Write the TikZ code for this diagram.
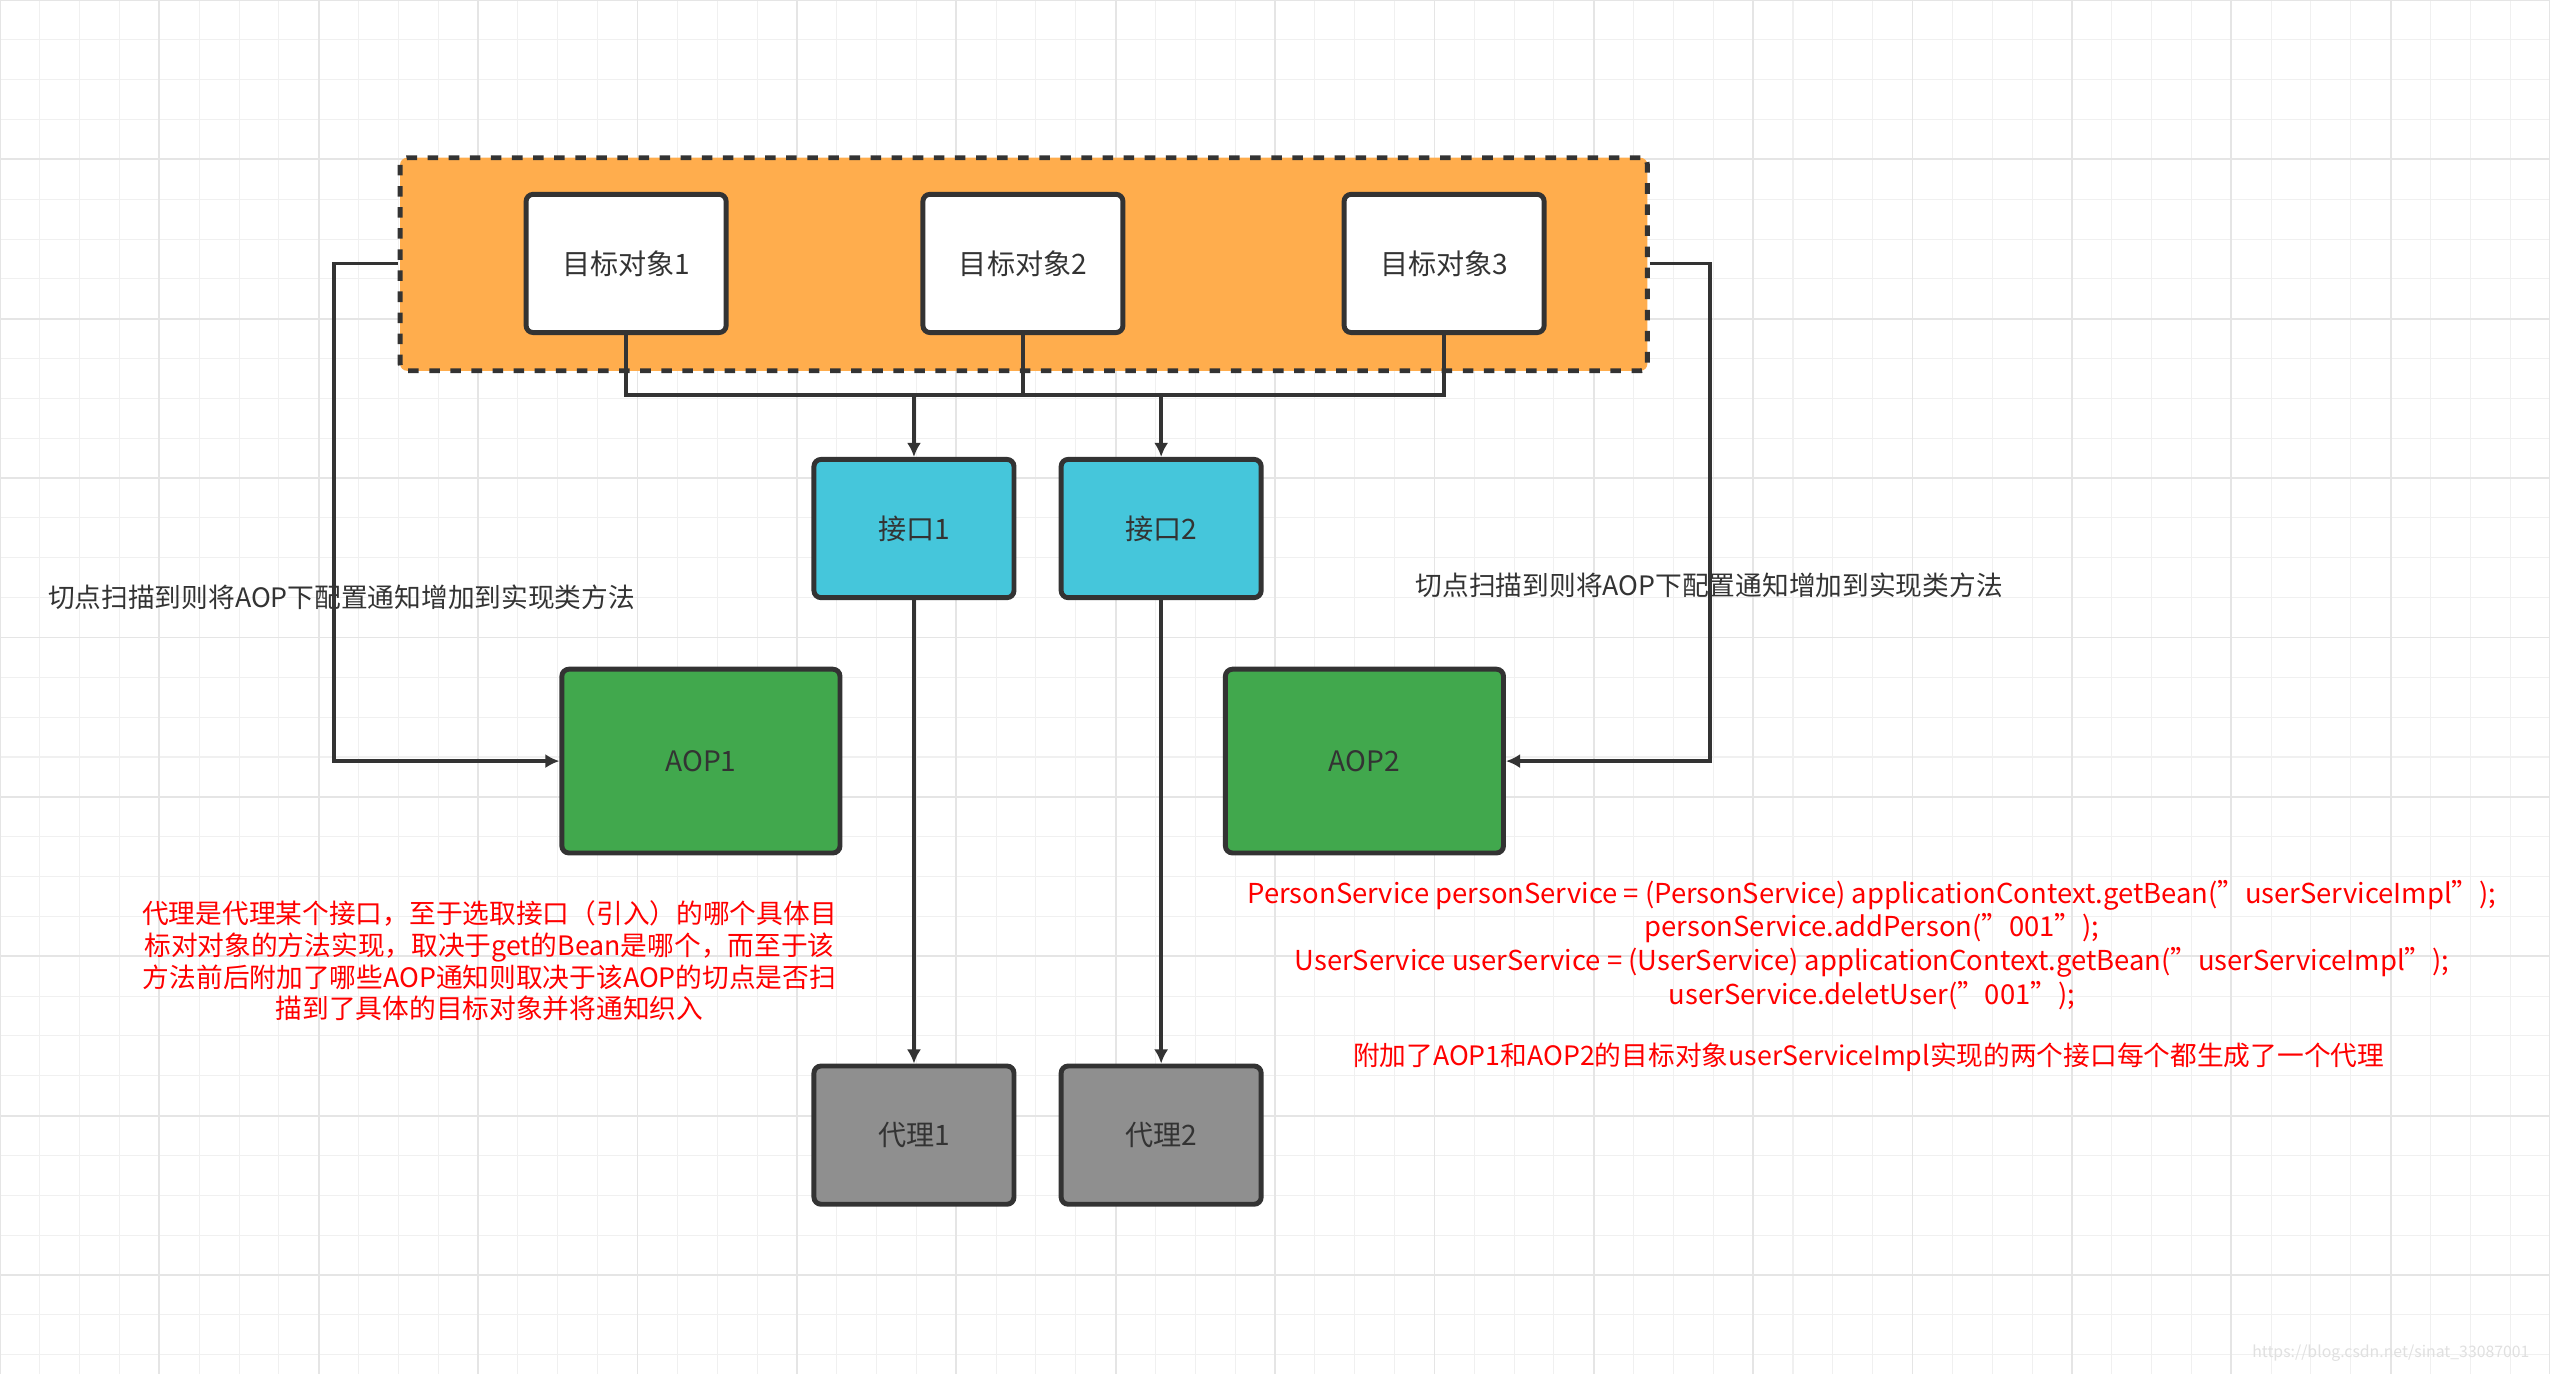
\documentclass[tikz,border=0pt]{standalone}
\usepackage{fontspec}
\setmainfont{Noto Sans CJK SC}
\usetikzlibrary{positioning}
\definecolor{orangebg}{HTML}{FFAD4D}
\definecolor{cyanbox}{HTML}{45C6DB}
\definecolor{greenbox}{HTML}{41A84D}
\definecolor{greybox}{HTML}{8F8F8F}
\definecolor{linegrey}{HTML}{333333}
\tikzset{
  box/.style={draw=linegrey, line width=1.4pt, rounded corners=2pt, minimum width=123\unitlen, minimum height=85\unitlen, font=\fontsize{8}{10}\selectfont, text=linegrey},
  bigbox/.style={box, minimum width=171\unitlen, minimum height=113\unitlen},
  conn/.style={draw=linegrey, line width=1pt, -{Latex[length=4pt,width=4pt]}},
  note/.style={font=\fontsize{7.6}{9}\selectfont, align=center},
}
\newlength{\unitlen}\setlength{\unitlen}{0.1626mm}
\usetikzlibrary{arrows.meta}
\begin{document}
\begin{tikzpicture}[x=0.1626mm, y=-0.1626mm]
\useasboundingbox (0,0) rectangle (1568,845);
\fill[white] (0,0) rectangle (1568,845);
% grid
\foreach \i in {0,...,64} \draw[black!6, line width=0.3pt] (\i*24.5,0) -- (\i*24.5,845);
\foreach \j in {0,...,34} \draw[black!6, line width=0.3pt] (0,\j*24.5) -- (1568,\j*24.5);
\foreach \i in {0,...,16} \draw[black!10, line width=0.5pt] (\i*98,0) -- (\i*98,845);
\foreach \j in {0,...,8} \draw[black!10, line width=0.5pt] (0,\j*98) -- (1568,\j*98);

\node[draw=linegrey, dashed, line width=1.4pt, rounded corners=2pt, fill=orangebg, minimum width=767\unitlen, minimum height=131\unitlen] (group) at (629.5,162.5) {};
\node[box, fill=white] (t1) at (385,162) {目标对象1};
\node[box, fill=white] (t2) at (629,162) {目标对象2};
\node[box, fill=white] (t3) at (888,162) {目标对象3};
\node[box, fill=cyanbox] (i1) at (562,325) {接口1};
\node[box, fill=cyanbox] (i2) at (714,325) {接口2};
\node[bigbox, fill=greenbox] (aop1) at (431,468) {AOP1};
\node[bigbox, fill=greenbox] (aop2) at (839,468) {AOP2};
\node[box, fill=greybox] (p1) at (562,698) {代理1};
\node[box, fill=greybox] (p2) at (714,698) {代理2};

\coordinate (bus) at (385,243);
\draw[draw=linegrey, line width=1pt] (t1.south) |- (t3.south |- bus) -- (t3.south);
\draw[draw=linegrey, line width=1pt] (t2.south) -- (t2.south |- bus);
\draw[conn] (i1.north |- bus) -- (i1.north);
\draw[conn] (i2.north |- bus) -- (i2.north);
\draw[conn] (i1) -- (p1);
\draw[conn] (i2) -- (p2);
\draw[conn] (group.west |- t1) -- ++(-39,0) |- (aop1.west);
\draw[conn] (group.east |- t3) -- ++(37,0) |- (aop2.east);

\node[note, text=linegrey] (lab1) at (210,367) {切点扫描到则将AOP下配置通知增加到实现类方法};
\node[note, text=linegrey] (lab2) at (1051,360) {切点扫描到则将AOP下配置通知增加到实现类方法};
\node[note, text=red] (n1) at (301,591) {代理是代理某个接口，至于选取接口（引入）的哪个具体目\\标对对象的方法实现，取决于get的Bean是哪个，而至于该\\方法前后附加了哪些AOP通知则取决于该AOP的切点是否扫\\描到了具体的目标对象并将通知织入};
\node[note, text=red, font=\fontsize{7.8}{9.6}\selectfont] (n2) at (1151,581) {PersonService personService = (PersonService) applicationContext.getBean("userServiceImpl");\\personService.addPerson("001");\\UserService userService = (UserService) applicationContext.getBean("userServiceImpl");\\userService.deletUser("001");};
\node[note, text=red] (n3) at (1149,650) {附加了AOP1和AOP2的目标对象userServiceImpl实现的两个接口每个都生成了一个代理};
\node[font=\fontsize{4.5}{5}\selectfont, text=black!12, anchor=east] (wm) at (1563,832) {https://blog.csdn.net/sinat\_33087001};
\end{tikzpicture}
\end{document}
